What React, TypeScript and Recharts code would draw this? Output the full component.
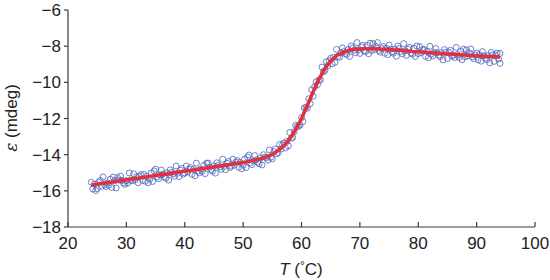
import { ScatterChart, Scatter, XAxis, YAxis } from "recharts";

// fitted curve, one value per °C
const fitT = [
  24, 25, 26, 27, 28, 29, 30, 31, 32, 33, 34, 35, 36, 37, 38, 39, 40, 41, 42, 43, 44, 45, 46, 47, 48, 49,
  50, 51, 52, 53, 54, 55, 56, 57, 58, 59, 60, 61, 62, 63, 64, 65, 66, 67, 68, 69, 70, 71, 72, 73, 74,
  75, 76, 77, 78, 79, 80, 81, 82, 83, 84, 85, 86, 87, 88, 89, 90, 91, 92, 93, 94,
];
const fitE = [
  -15.68, -15.63, -15.58, -15.54, -15.49, -15.44, -15.39, -15.34, -15.3, -15.25, -15.2, -15.15, -15.1,
  -15.06, -15.01, -14.96, -14.91, -14.87, -14.82, -14.77, -14.72, -14.67, -14.63, -14.58, -14.53, -14.48,
  -14.43, -14.37, -14.3, -14.22, -14.12, -13.98, -13.78, -13.5, -13.12, -12.62, -12.0, -11.28, -10.52,
  -9.82, -9.25, -8.82, -8.53, -8.35, -8.24, -8.18, -8.15, -8.14, -8.14, -8.15, -8.17, -8.19, -8.21,
  -8.24, -8.26, -8.29, -8.31, -8.34, -8.36, -8.38, -8.41, -8.43, -8.45, -8.47, -8.49, -8.51, -8.53,
  -8.55, -8.57, -8.59, -8.61,
];

// measured points: [T, ε]
const measured: [number, number][] = [
  [24, -15.53], [24.25, -15.9], [24.5, -15.63], [24.75, -15.98],
  [25, -15.88], [25.25, -15.53], [25.5, -15.43], [25.75, -15.75],
  [26, -15.23], [26.25, -15.66], [26.5, -15.76], [26.75, -15.56],
  [27, -15.69], [27.25, -15.36], [27.5, -15.82], [27.75, -15.24],
  [28, -15.44], [28.25, -15.84], [28.5, -15.27], [28.75, -15.41],
  [29, -15.19], [29.25, -15.42], [29.5, -15.56], [29.75, -15.64],
  [30, -15.44], [30.25, -15.57], [30.5, -15.01], [30.75, -15.41],
  [31, -15.44], [31.25, -15.06], [31.5, -15.39], [31.75, -15.22],
  [32, -15.55], [32.25, -15.2], [32.5, -15.1], [32.75, -15.42],
  [33, -15.1], [33.25, -15.47], [33.5, -15.2], [33.75, -15.55],
  [34, -15.35], [34.25, -15.02], [34.5, -15.48], [34.75, -14.9],
  [35, -14.8], [35.25, -15.23], [35.5, -15.33], [35.75, -15.13],
  [36, -14.85], [36.25, -15.08], [36.5, -15.22], [36.75, -15.3],
  [37, -15.01], [37.25, -15.41], [37.5, -14.84], [37.75, -14.98],
  [38, -15.06], [38.25, -15.19], [38.5, -14.63], [38.75, -15.03],
  [39, -15.21], [39.25, -14.86], [39.5, -14.76], [39.75, -15.08],
  [40, -15.01], [40.25, -14.63], [40.5, -14.96], [40.75, -14.79],
  [41, -14.72], [41.25, -15.09], [41.5, -14.82], [41.75, -15.17],
  [42, -14.47], [42.25, -14.9], [42.5, -15.0], [42.75, -14.8],
  [43, -14.92], [43.25, -14.59], [43.5, -15.05], [43.75, -14.47],
  [44, -14.47], [44.25, -14.7], [44.5, -14.84], [44.75, -14.92],
  [45, -14.62], [45.25, -15.02], [45.5, -14.45], [45.75, -14.59],
  [46, -14.68], [46.25, -14.81], [46.5, -14.25], [46.75, -14.65],
  [47, -14.83], [47.25, -14.48], [47.5, -14.38], [47.75, -14.7],
  [48, -14.63], [48.25, -14.25], [48.5, -14.58], [48.75, -14.41],
  [49, -14.33], [49.25, -14.7], [49.5, -14.43], [49.75, -14.78],
  [50, -14.58], [50.25, -14.25], [50.5, -14.71], [50.75, -14.13],
  [51, -14.02], [51.25, -14.45], [51.5, -14.55], [51.75, -14.35],
  [52, -14.05], [52.25, -14.28], [52.5, -14.42], [52.75, -14.5],
  [53, -14.17], [53.25, -14.57], [53.5, -14.0], [53.75, -14.14],
  [54, -14.17], [54.25, -14.3], [54.5, -13.74], [54.75, -14.14],
  [55, -14.23], [55.25, -13.83], [55.5, -13.68], [55.75, -13.95],
  [56, -13.88], [56.25, -13.43], [56.5, -13.69], [56.75, -13.45],
  [57, -13.35], [57.25, -13.63], [57.5, -13.26], [57.75, -13.52],
  [58, -12.77], [58.25, -13.08], [58.5, -13.05], [58.75, -12.73],
  [59, -12.37], [59.25, -12.45], [59.5, -12.43], [59.75, -12.36],
  [60, -11.95], [60.25, -12.17], [60.5, -11.42], [60.75, -11.38],
  [61, -11.43], [61.25, -10.91], [61.5, -11.18], [61.75, -10.41],
  [62, -10.77], [62.25, -10.25], [62.5, -9.97], [62.75, -10.12],
  [63, -9.87], [63.25, -9.86], [63.5, -9.16], [63.75, -9.41],
  [64, -9.35], [64.25, -8.86], [64.5, -9.09], [64.75, -8.81],
  [65, -8.67], [65.25, -8.97], [65.5, -8.62], [65.75, -8.9],
  [66, -8.18], [66.25, -8.56], [66.5, -8.62], [66.75, -8.37],
  [67, -8.1], [67.25, -8.3], [67.5, -8.41], [67.75, -8.46],
  [68, -8.19], [68.25, -8.57], [68.5, -7.99], [68.75, -8.11],
  [69, -8.23], [69.25, -8.36], [69.5, -7.8], [69.75, -8.2],
  [70, -8.4], [70.25, -8.05], [70.5, -7.95], [70.75, -8.27],
  [71, -8.29], [71.25, -7.96], [71.5, -8.42], [71.75, -7.84],
  [72, -8.24], [72.25, -7.86], [72.5, -8.19], [72.75, -8.02],
  [73, -7.8], [73.25, -8.23], [73.5, -8.33], [73.75, -8.13],
  [74, -8.02], [74.25, -8.39], [74.5, -8.12], [74.75, -8.47],
  [75, -7.94], [75.25, -8.17], [75.5, -8.31], [75.75, -8.39],
  [76, -8.16], [76.25, -8.56], [76.5, -7.99], [76.75, -8.13],
  [77, -8.29], [77.25, -8.42], [77.5, -7.86], [77.75, -8.26],
  [78, -8.51], [78.25, -8.16], [78.5, -8.06], [78.75, -8.38],
  [79, -8.44], [79.25, -8.11], [79.5, -8.57], [79.75, -7.99],
  [80, -8.41], [80.25, -8.03], [80.5, -8.36], [80.75, -8.19],
  [81, -8.19], [81.25, -8.56], [81.5, -8.29], [81.75, -8.64],
  [82, -8.01], [82.25, -8.44], [82.5, -8.54], [82.75, -8.34],
  [83, -8.13], [83.25, -8.36], [83.5, -8.5], [83.75, -8.58],
  [84, -8.36], [84.25, -8.76], [84.5, -8.19], [84.75, -8.33],
  [85, -8.68], [85.25, -8.33], [85.5, -8.23], [85.75, -8.55],
  [86, -8.5], [86.25, -8.63], [86.5, -8.07], [86.75, -8.47],
  [87, -8.62], [87.25, -8.29], [87.5, -8.75], [87.75, -8.17],
  [88, -8.59], [88.25, -8.21], [88.5, -8.54], [88.75, -8.37],
  [89, -8.16], [89.25, -8.59], [89.5, -8.69], [89.75, -8.49],
  [90, -8.38], [90.25, -8.75], [90.5, -8.48], [90.75, -8.83],
  [91, -8.3], [91.25, -8.53], [91.5, -8.67], [91.75, -8.75],
  [92, -8.52], [92.25, -8.92], [92.5, -8.35], [92.75, -8.49],
  [93, -8.84], [93.25, -8.49], [93.5, -8.39], [93.75, -8.71],
  [94, -8.4], [94, -8.95],
];

const xTicks = [20, 30, 40, 50, 60, 70, 80, 90, 100];
const yTicks = [-18, -16, -14, -12, -10, -8, -6];

const fitData = fitT.map((t, i) => ({ t, e: fitE[i] }));
const pointData = measured.map(([t, e]) => ({ t, e }));

const font = "'Liberation Sans', Arial, sans-serif";
const axisColor = "#3a3a3a";
const minus = (v: number) => String(v).replace("-", "\u2212");

const Ring = (props: any) => (
  <circle cx={props.cx} cy={props.cy} r={3} fill="none" stroke="#4a62b8" strokeWidth={0.8} />
);

const XTick = (props: any) => {
  const { x, y, payload } = props;
  return (
    <g>
      <line x1={x} x2={x} y1={y - 8} y2={y - 13} stroke={axisColor} strokeWidth={1.2} />
      <text x={x} y={y} dy={14} textAnchor="middle" fontSize={17} fill="#222" fontFamily={font}>
        {payload.value}
      </text>
    </g>
  );
};

const XLabel = () => (
  <text x={301} y={275} textAnchor="middle" fontSize={17} fill="#222" fontFamily={font}>
    <tspan fontStyle="italic">T</tspan>
    <tspan> (</tspan>
    <tspan dy={-5} fontSize={12}>°</tspan>
    <tspan dy={5}>C)</tspan>
  </text>
);

const YLabel = () => (
  <text
    x={17}
    y={118}
    transform="rotate(-90 17 118)"
    textAnchor="middle"
    fontSize={17}
    fill="#222"
    fontFamily={font}
  >
    <tspan fontStyle="italic" fontFamily="'DejaVu Serif', serif">ε</tspan>
    <tspan> (mdeg)</tspan>
  </text>
);

export default function App() {
  return (
    <div style={{ position: "absolute", left: 0, top: 0, background: "#fff" }}>
      <ScatterChart width={550} height={280} margin={{ top: 10, right: 15, bottom: 0, left: 0 }}>
        <XAxis
          type="number"
          dataKey="t"
          domain={[20, 100]}
          ticks={xTicks}
          height={53}
          tickSize={0}
          tickMargin={8}
          tick={<XTick />}
          stroke={axisColor}
          strokeWidth={1.2}
          label={() => <XLabel />}
        />
        <YAxis
          type="number"
          dataKey="e"
          domain={[-18, -6]}
          ticks={yTicks}
          width={68}
          tickSize={4}
          tickMargin={3}
          tickFormatter={minus}
          tick={{ fontSize: 17, fill: "#222", fontFamily: font }}
          stroke={axisColor}
          strokeWidth={1.2}
          label={() => <YLabel />}
        />
        <Scatter data={pointData} shape={<Ring />} isAnimationActive={false} />
        <Scatter
          data={fitData}
          line={{ stroke: "#e3303c", strokeWidth: 3.5 }}
          lineType="joint"
          shape={() => <g />}
          isAnimationActive={false}
        />
      </ScatterChart>
    </div>
  );
}
